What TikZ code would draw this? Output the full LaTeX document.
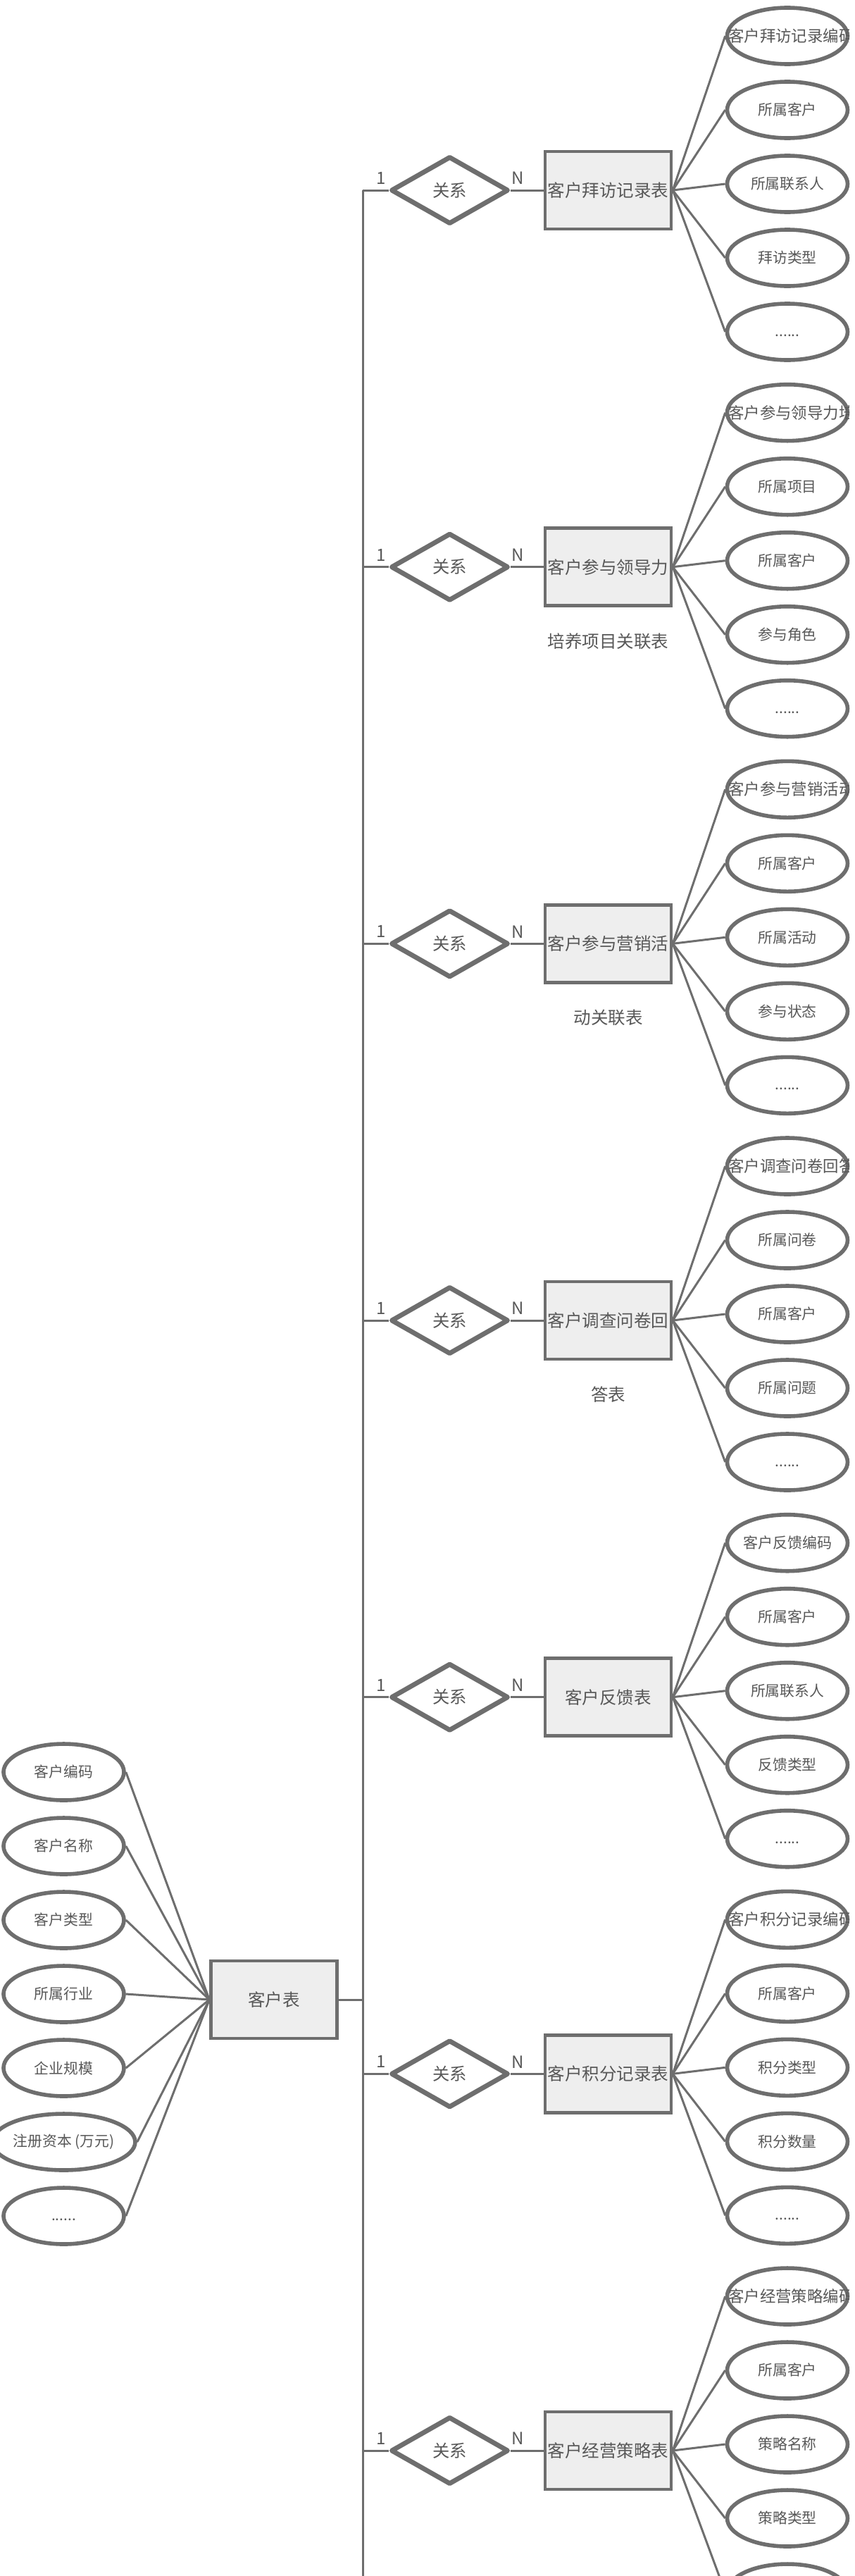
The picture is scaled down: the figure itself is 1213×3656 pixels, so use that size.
\documentclass[tikz,border=0pt]{standalone}
\usepackage{fontspec}
\setmainfont{Noto Sans CJK SC}
\usetikzlibrary{shapes.geometric}
\definecolor{lg}{HTML}{6E6E6E}
\definecolor{tg}{HTML}{585858}
\definecolor{bf}{HTML}{EEEEEE}
\tikzset{
  conn/.style={draw=lg, line width=3pt},
  relshape/.style={diamond, draw=lg, line width=6.8pt, line join=round, fill=white,
    minimum width=167pt, minimum height=96pt, inner sep=0pt, text=tg,
    font=\fontsize{24.3}{28}\selectfont},
  entshape/.style={rectangle, draw=lg, line width=4.5pt, fill=bf,
    minimum width=179pt, minimum height=110pt, inner sep=0pt, text=tg,
    font=\fontsize{24.5}{28}\selectfont},
  attr/.style={ellipse, draw=lg, line width=5.6pt, fill=white,
    minimum width=171pt, minimum height=80pt, inner sep=0pt, text=tg,
    font=\fontsize{20.8}{24}\selectfont},
  dotattr/.style={attr, text height=13pt, text depth=0pt},
  longtxt/.style={anchor=west, inner sep=0pt, text=tg, font=\fontsize{22.4}{26}\selectfont},
  ctxt/.style={anchor=center, xshift=84pt, inner sep=0pt, text=tg, font=\fontsize{21}{24}\selectfont},
  card/.style={inner sep=0pt, text=tg, font=\fontsize{24}{28}\selectfont},
  wraptxt/.style={inner sep=0pt, text=tg, font=\fontsize{24.5}{28}\selectfont},
}
% #1 idx, #2 y, #3 entity, #4 first attr text, #5 its style, #6-#8 attrs, #9 last attr text
\newcommand{\ergroup}[9]{%
  \coordinate (t#1) at (515,#2);
  \node[relshape] (d#1) at (638.5,#2) {关系};
  \node[entshape] (e#1) at (863.5,#2) {#3};
  \node[card] (one#1) at (541,#2-17) {1};
  \node[card] (n#1) at (735,#2-17) {N};
  \draw[conn] (t#1) -- (d#1.west);
  \draw[conn] (d#1.east) -- (e#1.west);
  \node[attr] (a#1a) at (1118,#2-219) {};
  \begin{scope}
    \clip (1030,#2-250) rectangle (1205,#2-190);
    \node[#5] (x#1) at (1034,#2-219) {#4};
  \end{scope}
  \node[attr] (a#1b) at (1118,#2-114) {#6};
  \node[attr] (a#1c) at (1118,#2-9) {#7};
  \node[attr] (a#1d) at (1118,#2+96) {#8};
  \node[dotattr] (a#1e) at (1118,#2+201) {#9};
  \foreach \s in {a,b,c,d,e} \draw[conn] (e#1.east) -- (a#1\s.west);
}
\begin{document}
\begin{tikzpicture}[x=1pt,y=-1pt]
\useasboundingbox (0,0) rectangle (1213,3656);
\fill[white] (0,0) rectangle (1213,3656);
\clip (0,0) rectangle (1213,3656);

% trunk
\coordinate (tb) at (515,3670);
\draw[conn] (515,270) coordinate (ttop) -- (tb);

\ergroup{1}{270}{客户拜访记录表}{客户拜访记录编码}{longtxt}{所属客户}{所属联系人}{拜访类型}{......}
\ergroup{2}{804.7}{客户参与领导力}{客户参与领导力培}{longtxt}{所属项目}{所属客户}{参与角色}{......}
\ergroup{3}{1339.3}{客户参与营销活}{客户参与营销活动}{longtxt}{所属客户}{所属活动}{参与状态}{......}
\ergroup{4}{1874}{客户调查问卷回}{客户调查问卷回答}{longtxt}{所属问卷}{所属客户}{所属问题}{......}
\ergroup{5}{2408.7}{客户反馈表}{客户反馈编码}{ctxt}{所属客户}{所属联系人}{反馈类型}{......}
\ergroup{6}{2943.3}{客户积分记录表}{客户积分记录编码}{longtxt}{所属客户}{积分类型}{积分数量}{......}
\ergroup{7}{3478}{客户经营策略表}{客户经营策略编码}{longtxt}{所属客户}{策略名称}{策略类型}{}

% wrapped second lines of entity names
\node[wraptxt] (w2) at (863.5,909.7) {培养项目关联表};
\node[wraptxt] (w3) at (863.5,1444.3) {动关联表};
\node[wraptxt] (w4) at (863.5,1979) {答表};

% customer table
\node[entshape] (c) at (389,2838) {客户表};
\coordinate (tc) at (515,2838);
\draw[conn] (c.east) -- (tc);
\node[attr] (l1) at (90.5,2515) {客户编码};
\node[attr] (l2) at (90.5,2620) {客户名称};
\node[attr] (l3) at (90.5,2725) {客户类型};
\node[attr] (l4) at (90.5,2830) {所属行业};
\node[attr] (l5) at (90.5,2935) {企业规模};
\node[attr] (l6) at (90.5,3040) {注册资本 (万元)};
\node[dotattr] (l7) at (90.5,3145) {......};
\foreach \k in {1,...,7} \draw[conn] (c.west) -- (l\k.east);
\end{tikzpicture}
\end{document}
